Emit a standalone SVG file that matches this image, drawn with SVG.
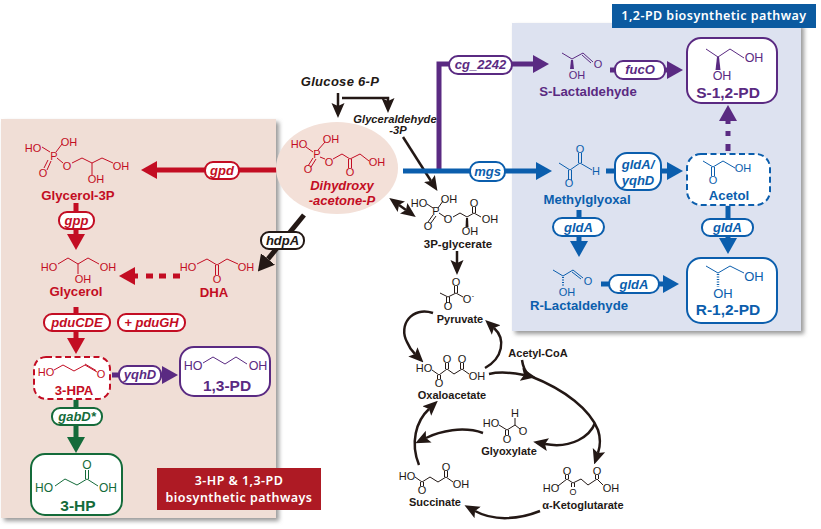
<svg xmlns="http://www.w3.org/2000/svg" width="821" height="529" viewBox="0 0 821 529">
<style>
text{font-family:"Liberation Sans",Arial,sans-serif;text-anchor:middle}
.a{font-size:11px}
.l{font-weight:bold;font-size:13.2px}
.s{font-weight:bold;font-size:11px;fill:#231815}
.big{font-weight:bold;font-size:15.5px}
.e{font-weight:bold;font-style:italic;font-size:13px}
.t{font-family:"Noto Sans",sans-serif;font-size:12.5px;font-weight:600;fill:#fff;letter-spacing:.45px}
.m{fill:none;stroke-width:1;stroke-linejoin:round}
.pill,.box{fill:#fff;stroke-width:2}
.dash{stroke-dasharray:6 3.5}
.red text{fill:#c30d23}.red .m,.red .pill,.red .box{stroke:#c30d23}
.blue text{fill:#0b5ead}.blue .m,.blue .pill,.blue .box{stroke:#0b5ead}
.pur text{fill:#5a2a82}.pur .m,.pur .pill,.pur .box{stroke:#5a2a82}
.grn text{fill:#146b3a}.grn .m,.grn .pill,.grn .box{stroke:#146b3a}
.blk text{fill:#231815}.blk .m,.blk .pill{stroke:#231815}
.c{fill:none;stroke-width:5}
.cr{stroke:#c30d23}.cb{stroke:#0b5ead}.cp{stroke:#5a2a82}.cg{stroke:#146b3a}.ck{stroke:#231815}
.k{fill:none;stroke:#231815;stroke-width:2.5}
</style>
<defs>
<filter id="sh" x="-5%" y="-5%" width="110%" height="110%"><feGaussianBlur stdDeviation="2"/></filter>
<marker id="hr" markerUnits="userSpaceOnUse" viewBox="0 -9 16 18" markerWidth="16" markerHeight="18" orient="auto"><path d="M0-9L16 0L0 9Z" fill="#c30d23"/></marker>
<marker id="hb" markerUnits="userSpaceOnUse" viewBox="0 -9 16 18" markerWidth="16" markerHeight="18" orient="auto"><path d="M0-9L16 0L0 9Z" fill="#0b5ead"/></marker>
<marker id="hp" markerUnits="userSpaceOnUse" viewBox="0 -9 16 18" markerWidth="16" markerHeight="18" orient="auto"><path d="M0-9L16 0L0 9Z" fill="#5a2a82"/></marker>
<marker id="hg" markerUnits="userSpaceOnUse" viewBox="0 -9 16 18" markerWidth="16" markerHeight="18" orient="auto"><path d="M0-9L16 0L0 9Z" fill="#146b3a"/></marker>
<marker id="hk" markerUnits="userSpaceOnUse" viewBox="0 -9 16 18" markerWidth="16" markerHeight="18" orient="auto"><path d="M0-9L16 0L0 9Z" fill="#231815"/></marker>
<marker id="s" markerUnits="userSpaceOnUse" viewBox="-3 -7 15 14" markerWidth="15" markerHeight="14" refX="0" orient="auto-start-reverse"><path d="M12 0L-3-6.500L0 0L-3 6.500Z" fill="#231815"/></marker>
</defs>

<g id="panels">
<rect x="4" y="122" width="275" height="399" fill="#999" filter="url(#sh)"/>
<rect x="1" y="119" width="275" height="399" fill="#f0ded6"/>
<rect x="515" y="26" width="289" height="308" fill="#999" filter="url(#sh)"/>
<rect x="512" y="23" width="289" height="308" fill="#dde2f0"/>
</g>

<g id="connectors">
<path class="c cr" d="M278 170H157" marker-end="url(#hr)"/>
<path class="c cr" d="M76 203V234" marker-end="url(#hr)"/>
<path class="c cr" d="M146 276H153M159 276H166M173 276H180"/>
<path class="c cr" d="M138 276H135" marker-end="url(#hr)"/>
<path class="c cr" d="M76 307V338" marker-end="url(#hr)"/>
<path class="c cp" d="M112 375H162" marker-end="url(#hp)"/>
<path class="c cg" d="M76 400V437" marker-end="url(#hg)"/>
<path class="c ck" d="M304 215L268 259" marker-end="url(#hk)"/>
<path class="k" d="M338 93V106" marker-end="url(#s)"/>
<path class="k" d="M342 98H388V101" marker-end="url(#s)"/>
<path class="k" d="M403 137L431 181" marker-end="url(#s)"/>
<path class="k" d="M399 205L406 210" marker-start="url(#s)" marker-end="url(#s)"/>
<path class="k" d="M457 251V263" marker-end="url(#s)"/>
<path class="c cp" d="M439 171V64H533" marker-end="url(#hp)"/>
<path class="c cb" d="M403 171H536" marker-end="url(#hb)"/>
<path class="c cp" d="M610 70H667" marker-end="url(#hp)"/>
<path class="c cb" d="M606 171H667" marker-end="url(#hb)"/>
<path class="c cp" d="M728 124V121" marker-end="url(#hp)"/>
<path class="c cp" d="M728 151V144M728 136V131"/>
<path class="c cb" d="M579 210V241" marker-end="url(#hb)"/>
<path class="c cb" d="M728 206V238" marker-end="url(#hb)"/>
<path class="c cb" d="M601 284H663" marker-end="url(#hb)"/>
<path class="k" d="M433 313C412 306 398 325 407 342C409 347 412 351 415 354" marker-end="url(#s)"/>
<path class="k" d="M485 368C503 358 506 339 494 328" marker-end="url(#s)"/>
<path class="k" d="M489 374C502 371 514 373 524 375" marker-end="url(#s)"/>
<path class="k" d="M522 360C523 367 525 371 528 374"/>
<path class="k" d="M530 376C566 390 590 410 598 430C601 439 600 447 598 453" marker-end="url(#s)"/>
<path class="k" d="M595 423C590 436 572 449 545 444" marker-end="url(#s)"/>
<path class="k" d="M483 433C463 426 440 431 426 438" marker-end="url(#s)"/>
<path class="k" d="M419 465C410 443 416 421 429 409" marker-end="url(#s)"/>
<path class="k" d="M540 511C520 519 495 522 475 511" marker-end="url(#s)"/>
</g>

<g id="glycerol-3p" class="red">
<path class="m" d="M42 147L50 152M56 152L62 144M48 160L44 168M51 161L47 170M57 158L63 163M72 163L82 158L92 163L102 158L113 163M92 163V175"/>
<text class="a" x="33" y="152">HO</text><text class="a" x="69" y="146">OH</text><text class="a" x="54" y="160">P</text><text class="a" x="43" y="177">O</text><text class="a" x="67" y="170">O</text><text class="a" x="121" y="170">OH</text><text class="a" x="96" y="183">OH</text>
<text class="l" x="78" y="200">Glycerol-3P</text>
</g>
<g id="gpd" class="red"><rect class="pill" x="205" y="162" width="34" height="17" rx="8"/><text class="e" x="222" y="175">gpd</text></g>
<g id="gpp" class="red"><rect class="pill" x="59" y="212" width="35" height="17" rx="8"/><text class="e" x="76.500" y="225">gpp</text></g>
<g id="glycerol" class="red">
<path class="m" d="M58 264L68 258L78 264L88 258L99 264M78 264V274"/>
<text class="a" x="49" y="271">HO</text><text class="a" x="108" y="271">OH</text><text class="a" x="83" y="283">OH</text>
<text class="l" x="76" y="295.500">Glycerol</text>
</g>
<g id="dha" class="red">
<path class="m" d="M197 264L207 259L217 265L227 259L238 264M215.500 265V275M218.500 265V275"/>
<text class="a" x="188" y="271">HO</text><text class="a" x="246" y="271">OH</text><text class="a" x="217" y="283">O</text>
<text class="l" x="214" y="297">DHA</text>
</g>
<g id="hdpa" class="blk"><rect class="pill" x="261" y="232" width="43" height="17" rx="8"/><text class="e" x="282.500" y="245">hdpA</text></g>
<g id="pducde" class="red"><rect class="pill" x="44" y="314" width="66" height="17" rx="8"/><text class="e" x="77" y="327">pduCDE</text></g>
<g id="pdugh" class="red"><rect class="pill" x="118" y="314" width="67" height="17" rx="8"/><text class="e" x="151.500" y="327">+ pduGH</text></g>
<g id="hpa" class="red">
<rect class="box dash" x="34" y="357" width="76" height="42" rx="12"/>
<path class="m" d="M54 370L63 365L74 371L85 365L97 372M85 364L96 370.500"/>
<text class="a" x="46" y="376">HO</text><text class="a" x="101" y="378">O</text>
<text class="l" x="74" y="395">3-HPA</text>
</g>
<g id="yqhd" class="pur"><rect class="pill" x="119" y="366" width="42" height="18" rx="8"/><text class="e" x="140" y="379">yqhD</text></g>
<g id="pd13" class="pur">
<rect class="box" x="180" y="347" width="90" height="49" rx="14"/>
<path class="m" d="M203 363L213 357L225 364L236 357L247 364"/>
<text class="a" x="193" y="370" style="font-size:12.500px">HO</text><text class="a" x="258" y="370" style="font-size:12.500px">OH</text>
<text class="big" x="227" y="391">1,3-PD</text>
</g>
<g id="gabd" class="grn"><rect class="pill" x="52" y="408" width="50" height="17" rx="8"/><text class="e" x="77" y="421">gabD*</text></g>
<g id="hp3" class="grn">
<rect class="box" x="31" y="454" width="91" height="61" rx="14"/>
<path class="m" d="M55 486L65 479L77 485L87 479L98 486M85.500 479V470M88.500 479V470"/>
<text class="a" style="font-size:12px" x="44" y="492">HO</text><text class="a" style="font-size:12px" x="108" y="492">OH</text><text class="a" style="font-size:12px" x="87" y="469">O</text>
<text class="big" x="78" y="511">3-HP</text>
</g>
<g id="title-left"><rect x="157" y="468" width="164" height="42" fill="#ae1a24"/><text class="t" x="239" y="485">3-HP &amp; 1,3-PD</text><text class="t" x="239" y="502">biosynthetic pathways</text></g>
<g id="title-right"><rect x="612" y="4" width="204" height="24" fill="#0b5aa0"/><text class="t" x="714" y="20">1,2-PD biosynthetic pathway</text></g>

<g id="glucose" class="blk"><text class="e" x="340" y="86" style="letter-spacing:.3px">Glucose 6-P</text></g>
<g id="g3p" class="blk"><text class="e" x="395" y="123" style="font-size:11.200px">Glyceraldehyde</text><text class="e" x="398" y="134" style="font-size:11.200px">-3P</text></g>

<g id="dhap" class="red">
<ellipse cx="337" cy="168" rx="61" ry="46" fill="#f3e0d8"/>
<path class="m" d="M306 147L313 152M318 150L325 142M313 158L308 166M316 159L311 167M320 157L325 159M333 159L342 154L350 159L360 154L369 161M348.500 159V168M351.500 159V168"/>
<text class="a" x="299" y="148">HO</text><text class="a" x="331" y="143">OH</text><text class="a" x="317" y="158">P</text><text class="a" x="308" y="173">O</text><text class="a" x="329" y="166">O</text><text class="a" x="377" y="166">OH</text><text class="a" x="350" y="176">O</text>
<text class="e" x="342" y="190">Dihydroxy</text><text class="e" x="342" y="205">-acetone-P</text>
</g>

<g id="glycerate3p" class="blk">
<path class="m" d="M427 204L433 208M438 208L443 201M433 215L428 222M436 216L431 223M439 213L445 217M453 217L460 213L467 217L474 213L481 217M472.500 213V207M475.500 213V207"/>
<path d="M466 218L468 218L468.500 227L465.500 227Z" fill="#231815"/>
<text class="a" x="419" y="207">HO</text><text class="a" x="449" y="203">OH</text><text class="a" x="436" y="215">P</text><text class="a" x="428" y="230">O</text><text class="a" x="448" y="223">O</text><text class="a" x="474" y="207">O</text><text class="a" x="490" y="223">OH</text><text class="a" x="470" y="235">OH</text>
<text class="s" x="458" y="247.500" style="font-size:11.500px">3P-glycerate</text>
</g>
<g id="pyruvate" class="blk">
<path class="m" d="M440 293L448 297L456 293L463 297M446.500 297V303M449.500 297V303M454.500 293V286M457.500 293V286"/>
<text class="a" x="456" y="286">O</text><text class="a" x="467" y="303">O</text><text class="a" x="448" y="310">O</text><text class="a" x="473" y="298" style="font-size:7px">-</text>
<text class="s" x="460" y="322.500">Pyruvate</text>
</g>
<g id="oxaloacetate" class="blk">
<path class="m" d="M432 370L439 375L447 369L454 374L462 369L469 374M437.500 375V379M440.500 375V379M445.500 369V363M448.500 369V363M460.500 369V363M463.500 369V363"/>
<text class="a" x="424" y="372">HO</text><text class="a" x="477" y="380">OH</text><text class="a" x="447" y="363">O</text><text class="a" x="462" y="363">O</text><text class="a" x="439" y="386.500">O</text>
<text class="s" x="452" y="398.500">Oxaloacetate</text>
</g>
<g id="acetylcoa" class="blk"><text class="s" x="538" y="357">Acetyl-CoA</text></g>
<g id="glyoxylate" class="blk">
<path class="m" d="M499 425L507 430L515 425L520 429M515 425V418M505.500 430V435M508.500 430V435"/>
<text class="a" x="491" y="427">HO</text><text class="a" x="515" y="417">H</text><text class="a" x="523" y="435">O</text><text class="a" x="507" y="443">O</text>
<text class="s" x="509" y="455">Glyoxylate</text>
</g>
<g id="succinate" class="blk">
<path class="m" d="M415 477L422 482L430 477L438 482L446 477L453 482M420.500 482V486M423.500 482V486M444.500 477V471M447.500 477V471"/>
<text class="a" x="407" y="480">HO</text><text class="a" x="461" y="488">OH</text><text class="a" x="446" y="471">O</text><text class="a" x="422" y="493.500">O</text>
<text class="s" x="435" y="505.500">Succinate</text>
</g>
<g id="akg" class="blk">
<path class="m" d="M558 486L567 479L573 483L581 479L588 485L597 479L603 485M565.500 479V475M568.500 479V475M595.500 479V475M598.500 479V475M571.500 483V487M574.500 483V487"/>
<text class="a" x="551" y="492">HO</text><text class="a" x="611" y="492">OH</text><text class="a" x="567" y="475">O</text><text class="a" x="597" y="475">O</text><text class="a" x="573" y="495" style="font-size:9px">O</text>
<text class="s" x="583" y="509">α-Ketoglutarate</text>
</g>

<g id="cg2242" class="pur"><rect class="pill" x="449" y="56" width="63" height="18" rx="9"/><text class="e" x="480.500" y="69">cg_2242</text></g>
<g id="mgs" class="blue"><rect class="pill" x="470" y="162" width="35" height="19" rx="9"/><text class="e" x="487.500" y="176">mgs</text></g>
<g id="s-lact" class="pur">
<path class="m" d="M562 53L572 59L583 53L593 62M582 55L591 63"/>
<path d="M571 60L573 60L574 69L570 69Z" fill="#5a2a82"/>
<text class="a" x="598" y="68">O</text><text class="a" x="577" y="79">OH</text>
<text class="l" x="588" y="96">S-Lactaldehyde</text>
</g>
<g id="fuco" class="pur"><rect class="pill" x="615" y="61" width="50" height="18" rx="8"/><text class="e" x="640" y="74">fucO</text></g>
<g id="s12pd" class="pur">
<rect class="box" x="687" y="38" width="90" height="65" rx="14"/>
<path class="m" d="M706 49L718 57L730 49L744 58"/>
<path d="M717 57L719 57L720.500 70L715.500 70Z" fill="#5a2a82"/>
<text class="a" x="754" y="62" style="font-size:12.500px">OH</text><text class="a" x="722" y="80" style="font-size:12.500px">OH</text>
<text class="big" x="728" y="98">S-1,2-PD</text>
</g>
<g id="methylglyoxal" class="blue">
<path class="m" d="M559 163L570 170L580 163L592 170M578.500 163V153M581.500 163V153M568.500 170V180M571.500 170V180"/>
<text class="a" x="596" y="175">H</text><text class="a" x="580" y="153">O</text><text class="a" x="569" y="187">O</text>
<text class="l" x="587" y="204">Methylglyoxal</text>
</g>
<g id="gldayqhd" class="blue"><rect class="pill" x="615" y="153" width="46" height="37" rx="12"/><text class="e" x="638" y="169">gldA/</text><text class="e" x="638" y="185">yqhD</text></g>
<g id="acetol" class="blue">
<rect class="box dash" x="687" y="154" width="83" height="51" rx="14"/>
<path class="m" d="M703 161L713 167L723 161L735 168M711.500 167V176M714.500 167V176"/>
<text class="a" x="743" y="172">OH</text><text class="a" x="713" y="184">O</text>
<text class="l" x="729" y="200">Acetol</text>
</g>
<g id="glda1" class="blue"><rect class="pill" x="553" y="218" width="51" height="18" rx="9"/><text class="e" x="578.500" y="232">gldA</text></g>
<g id="glda2" class="blue"><rect class="pill" x="702" y="219" width="51" height="17" rx="8"/><text class="e" x="727.500" y="232">gldA</text></g>
<g id="r-lact" class="blue">
<path class="m" d="M553 270L563 276L573 270L583 278M572 272L581 279"/>
<path class="m" d="M563 277V287" style="stroke-dasharray:1 1.500;stroke-width:2"/>
<text class="a" x="588" y="285">O</text><text class="a" x="567" y="296">OH</text>
<text class="l" x="579" y="310">R-Lactaldehyde</text>
</g>
<g id="glda3" class="blue"><rect class="pill" x="609" y="275" width="50" height="18" rx="9"/><text class="e" x="634" y="288.500">gldA</text></g>
<g id="r12pd" class="blue">
<rect class="box" x="687" y="258" width="90" height="65" rx="14"/>
<path class="m" d="M706 266L718 273L730 266L744 273"/>
<path class="m" d="M718 274V287" style="stroke-dasharray:1 1.500;stroke-width:2.500"/>
<text class="a" x="754" y="281" style="font-size:13px">OH</text><text class="a" x="723" y="298" style="font-size:13px">OH</text>
<text class="big" x="728" y="315">R-1,2-PD</text>
</g>
</svg>
